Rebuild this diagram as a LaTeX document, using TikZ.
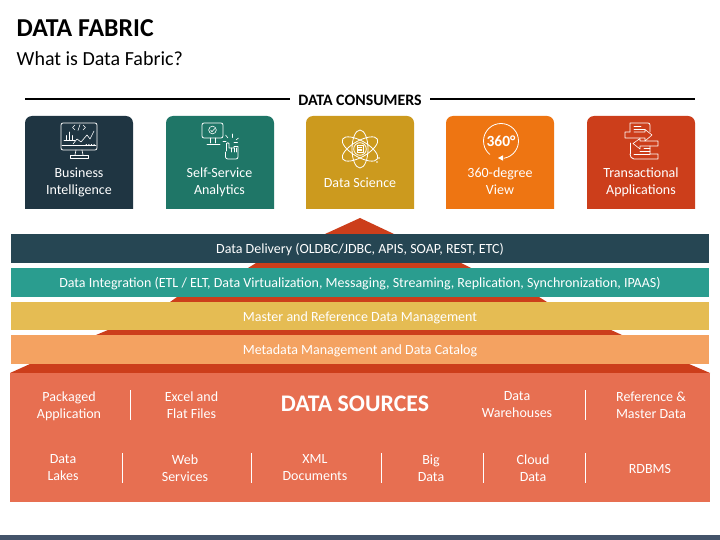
\documentclass[tikz,border=0pt]{standalone}
\usepackage{fontspec}
\setmainfont{Carlito}
\definecolor{cardA}{HTML}{1F3542}
\definecolor{cardB}{HTML}{1F7667}
\definecolor{cardC}{HTML}{CC9A1E}
\definecolor{cardD}{HTML}{EE7512}
\definecolor{cardE}{HTML}{CC3E1B}
\definecolor{barA}{HTML}{264653}
\definecolor{barB}{HTML}{2A9D8F}
\definecolor{barC}{HTML}{E5BC53}
\definecolor{barD}{HTML}{F4A261}
\definecolor{barE}{HTML}{E76F51}
\definecolor{foot}{HTML}{44546A}
\newcommand{\cardpath}[3]{\fill[#1] (#2,209) -- (#2,123) arc (180:270:7) -- ({#3-7},116) arc (270:360:7) -- (#3,209) -- cycle;}
\tikzset{
  lbl/.style={text=white,font=\fontsize{14}{17}\selectfont,align=center,inner sep=0pt,anchor=center,yshift=-2.5pt,execute at begin node=\strut,execute at end node=\strut},
  srclbl/.style={lbl},
  divider/.style={draw=white,line width=0.7pt},
  ico/.style={draw=white,line width=0.8pt,line cap=round,line join=round},
  icothin/.style={draw=white,line width=0.6pt,line cap=round,line join=round},
  rulebar/.style={draw=black,line width=1.6pt},
}
\begin{document}
\begin{tikzpicture}[x=1pt,y=-1pt]
\useasboundingbox (0,0) rectangle (720,540);
\fill[white] (0,0) rectangle (720,540);
% titles
\node[anchor=base west,inner sep=0pt,font=\fontsize{25.8}{28}\selectfont\bfseries] (title) at (16.5,37) {DATA FABRIC};
\node[anchor=base west,inner sep=0pt,font=\fontsize{20}{22}\selectfont] (subtitle) at (16.5,66) {What is Data Fabric?};
% consumers rule
\node[inner sep=0pt,font=\fontsize{15.9}{18}\selectfont\bfseries] (consumers) at (360,100) {DATA CONSUMERS};
\coordinate (ruleL) at (25,99);
\coordinate (ruleR) at (695,99);
\draw[rulebar] (ruleL) -- (290,99);
\draw[rulebar] (430,99) -- (ruleR);
% cards
\cardpath{cardA}{25}{133}
\cardpath{cardB}{166}{274}
\cardpath{cardC}{306}{414}
\cardpath{cardD}{446}{554}
\cardpath{cardE}{587}{695}
\node[lbl] (c1) at (79,181) {Business\\Intelligence};
\node[lbl] (c2) at (219.5,181) {Self-Service\\Analytics};
\node[lbl] (c3) at (360,181.5) {Data Science};
\node[lbl] (c4) at (500,181) {360-degree\\View};
\node[lbl] (c5) at (641,181) {Transactional\\Applications};
% icon 1
\draw[ico] (63,123) -- (95,123) to[out=0,in=90] (97,125) -- (97,148) to[out=-90,in=0] (95,150) -- (63,150) to[out=180,in=-90] (61,148) -- (61,125) to[out=90,in=180] (63,123) -- cycle;
\draw[icothin] (62,145) -- (96,145);
\draw[icothin] (76,150) -- (75,155) (82,150) -- (83,155);
\draw[ico] (70,158) -- (70,155.5) -- (88,155.5) -- (88,158) -- cycle;
\draw[icothin] (75,125) -- (72.5,127.5) -- (75,130) (83,125) -- (85.5,127.5) -- (83,130) (80,124.5) -- (78,130.5);
\draw[icothin] (64,140.5) -- (75,140.5) (66,140) -- (66,135.5) (69,140) -- (69,132) (72,140) -- (72,135.5);
\draw[icothin] (73,144) -- (77,139) -- (81,142) -- (87,135) -- (90,139) -- (94,131);
\draw[icothin,dotted] (86,144) -- (95,144);
% icon 2
\draw[ico] (204,123) -- (221,123) to[out=0,in=90] (223,125) -- (223,136) to[out=-90,in=0] (221,138) -- (204,138) to[out=180,in=-90] (202,136) -- (202,125) to[out=90,in=180] (204,123) -- cycle;
\draw[icothin] (212.5,130) circle (3.8);
\draw[icothin] (210.5,130) -- (212,131.7) -- (214.8,128.5);
\draw[icothin] (210,138) -- (210,143) (215,138) -- (215,143);
\draw[ico] (207,144.5) -- (220,144.5);
\draw[icothin] (223,141.5) -- (226,141.5) (225.5,135) -- (228,138) (232.5,134) -- (232.5,137.5) (236,140) -- (238.5,138) (234,142.5) -- (237.5,142.5);
\draw[ico] (225.5,152) -- (225.5,157) to[out=-90,in=180] (228,159) -- (236,159) to[out=0,in=-90] (238,157) -- (238,146.5) -- (234,146.5) -- (234,148) -- (229,148) -- (229,143.5) to[out=90,in=90] (226.5,143.5) -- (226.5,151);
\draw[icothin] (231.5,148) -- (231.5,152) (234,148) -- (234,152) (236,148) -- (236,152);
% icon 3
\begin{scope}[shift={(360,149)}]
\draw[ico] (0,0) circle (6.3);
\draw[icothin] (-3,-3.5) -- (3,-3.5) -- (3,3.5) -- (-3,3.5) -- cycle (-1.8,-1.6) -- (1.8,-1.6) (-1.8,0) -- (1.8,0) (-1.8,1.6) -- (1.8,1.6);
\draw[ico,rotate=90] (0,0) ellipse (19 and 8);
\draw[ico,rotate=30] (0,0) ellipse (20 and 8);
\draw[ico,rotate=-30] (0,0) ellipse (20 and 8);
\fill[white] (19,9) circle (0.8) (17,13) circle (0.8);
\end{scope}
% icon 4
\draw[ico] (501,141) ++(80:17.5) arc (80:-230:17.5);
\fill[white] (498,158) -- (503,155.3) -- (503,160.7) -- cycle;
\node[inner sep=0pt,text=white,font=\fontsize{15.5}{18}\selectfont\bfseries] (i360) at (501,141) {360°};
% icon 5
\draw[ico] (630,132) -- (630,123) -- (648,123) to[out=0,in=90] (650,125) -- (650,132);
\draw[ico] (630,143) -- (630,154);
\draw[ico] (650,146) -- (650,154) -- (658,154) -- (658,159) -- (634,159) to[out=180,in=-90] (630,154);
\draw[ico] (634,154) -- (650,154);
\draw[icothin] (630,132) -- (625,132) -- (625,138) -- (645,138) -- (645,141) -- (652,135) -- (645,129.5) -- (645,132) -- (634,132);
\draw[icothin] (658,146) -- (658,141) -- (640,141) -- (640,138.5) -- (633,143.5) -- (640,149) -- (640,146) -- (658,146);
\draw[icothin] (634,126.5) -- (641,126.5) (634,129.5) -- (645,129.5);
\draw[icothin] (640,151.5) -- (650,151.5) (644,148.5) -- (650,148.5);
% pyramid behind layers
\fill[cardE] (360,218) -- (325,234) -- (256,263) -- (248,268) -- (177,297) -- (170,302) -- (108,330) -- (96,335) -- (30,364) -- (10,373) -- (710,373) -- (689,364) -- (622,335) -- (611,330) -- (547,302) -- (539,297) -- (471,268) -- (461,263) -- (394,234) -- cycle;
% layers
\fill[barA] (11,234) rectangle (709,263);
\fill[barB] (11,268) rectangle (709,297);
\fill[barC] (11,302) rectangle (709,330);
\fill[barD] (11,335) rectangle (709,364);
\fill[barE] (10,373) rectangle (710,502);
\node[lbl] (l1) at (360,248) {Data Delivery (OLDBC/JDBC, APIS, SOAP, REST, ETC)};
\node[lbl] (l2) at (360,282) {Data Integration (ETL / ELT, Data Virtualization, Messaging, Streaming, Replication, Synchronization, IPAAS)};
\node[lbl] (l3) at (360,316) {Master and Reference Data Management};
\node[lbl] (l4) at (360,349) {Metadata Management and Data Catalog};
% sources
\node[inner sep=0pt,text=white,font=\fontsize{23.8}{26}\selectfont\bfseries] (src) at (355,404) {DATA SOURCES};
\node[srclbl] (s1) at (69,405) {Packaged\\Application};
\node[srclbl] (s2) at (191.5,405) {Excel and\\Flat Files};
\node[srclbl] (s3) at (517,405) {Data\\Warehouses};
\node[srclbl] (s4) at (651,405) {Reference \&\\Master Data};
\node[srclbl] (t1) at (63,468) {Data\\Lakes};
\node[srclbl] (t2) at (185,468) {Web\\Services};
\node[srclbl] (t3) at (315,468) {XML\\Documents};
\node[srclbl] (t4) at (431,468) {Big\\Data};
\node[srclbl] (t5) at (533,468) {Cloud\\Data};
\node[srclbl] (t6) at (650,468) {RDBMS};
\draw[divider] (130.5,390) -- (130.5,420);
\draw[divider] (585,390) -- (585,420);
\foreach \xx in {122,251,381,483,585} \draw[divider] (\xx,453) -- (\xx,483);
% footer
\fill[foot] (0,535) rectangle (720,540);
\end{tikzpicture}
\end{document}
